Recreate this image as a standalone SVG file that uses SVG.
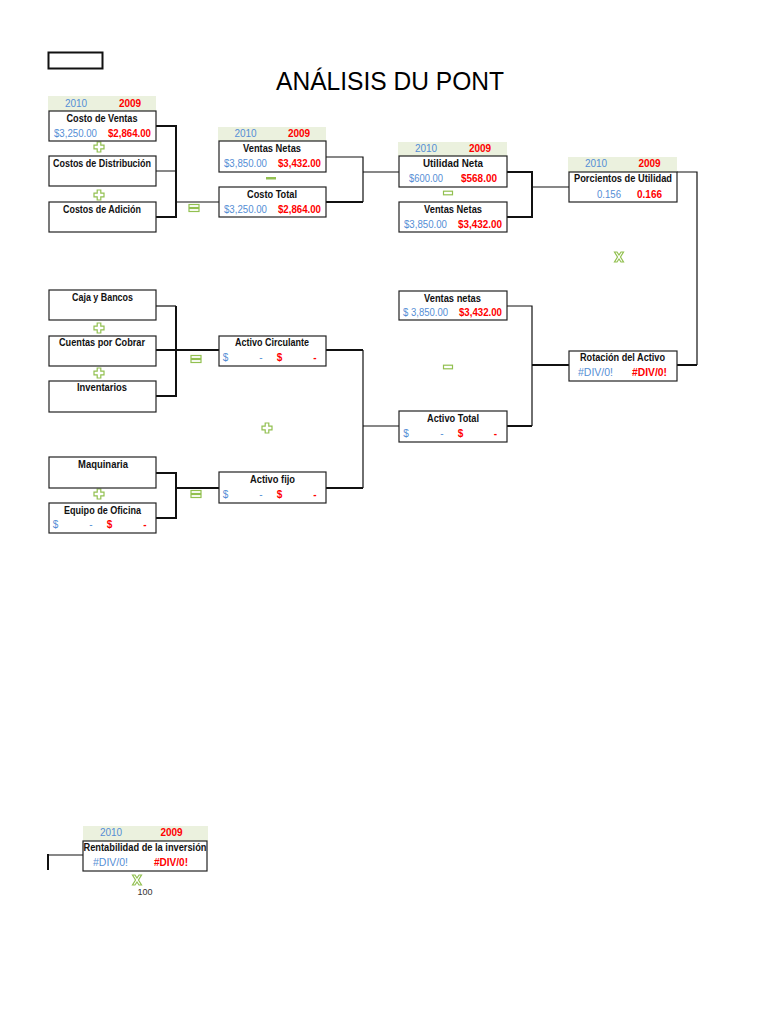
<svg xmlns="http://www.w3.org/2000/svg" width="768" height="1024" viewBox="0 0 768 1024">
<style>
text{font-family:"Liberation Sans",Arial,sans-serif;font-size:10px}
.box{fill:#fff;stroke:#222;stroke-width:1.2}
.hdr{fill:#ebf1de}
.t{font-weight:bold;fill:#111;text-anchor:middle}
.b{fill:#558ed5;text-anchor:middle}
.r{fill:#ff0000;font-weight:bold;text-anchor:middle}
.thin{stroke:#111;stroke-width:1.2;fill:none}
.thick{stroke:#111;stroke-width:2;fill:none}
.sym{fill:#fff;stroke:#92c050;stroke-width:1.2}
</style>
<defs>
<path id="plus" class="sym" d="M-1.8,-5 H1.8 V-1.8 H5 V1.8 H1.8 V5 H-1.8 V1.8 H-5 V-1.8 H-1.8 Z"/>
<g id="eq"><rect class="sym" x="-5" y="-3.5" width="10" height="3"/><rect class="sym" x="-5" y="0.5" width="10" height="3"/></g>
<rect id="sm" class="sym" x="-4.5" y="-1.8" width="9" height="3.6"/>
<path id="times" class="sym" d="M-4.5,-5 L-2,-5 L0,-2 L2,-5 L4.5,-5 L1.5,0 L4.5,5 L2,5 L0,2 L-2,5 L-4.5,5 L-1.5,0 Z"/>
</defs>
<rect x="0" y="0" width="768" height="1024" fill="#fff"/>
<rect x="48.5" y="52.5" width="54" height="16" fill="none" stroke="#111" stroke-width="2"/>
<text x="390" y="90" text-anchor="middle" style="font-size:25px" textLength="228" lengthAdjust="spacingAndGlyphs">ANÁLISIS DU PONT</text>

<g id="connectors">
<path class="thick" d="M156,126 H176 V217 H156"/>
<path class="thin" d="M156,171 H176 M176,202 H219"/>
<path class="thin" d="M326,157 H363 V202 M363,172 H399"/>
<path class="thick" d="M326,202 H363"/>
<path class="thick" d="M507,172 H532 V217 H507"/>
<path class="thin" d="M532,187 H569"/>
<path class="thin" d="M677,172 H697 V365"/>
<path class="thick" d="M677,365 H697"/>
<path class="thin" d="M156,306 H176"/>
<path class="thick" d="M176,306 V396 H156 M156,350 H219"/>
<path class="thick" d="M326,350 H363 M326,488 H363"/>
<path class="thin" d="M363,350 V488 M363,426 H399"/>
<path class="thin" d="M507,306 H532 V426"/>
<path class="thick" d="M507,426 H532 M532,365 H569"/>
<path class="thick" d="M156,473 H176 V518 H156 M176,488 H219"/>
<path class="thin" d="M48,855 H83"/>
<path class="thick" d="M48,854 V870"/>
</g>

<g id="symbols">
<use href="#plus" x="99" y="147"/>
<use href="#plus" x="99" y="195"/>
<use href="#plus" x="99" y="328"/>
<use href="#plus" x="99" y="373"/>
<use href="#plus" x="99" y="494"/>
<use href="#plus" x="267" y="428"/>
<use href="#eq" x="194" y="208"/>
<use href="#eq" x="196" y="359"/>
<use href="#eq" x="196" y="494"/>
<rect x="266" y="177" width="10" height="2.5" fill="#92c050"/>
<use href="#sm" x="448" y="193"/>
<use href="#sm" x="448" y="367"/>
<use href="#times" x="619" y="257"/>
<use href="#times" x="137" y="880"/>
</g>

<g id="costo-ventas">
<rect class="hdr" x="48" y="96" width="108" height="15"/>
<text class="b" x="76" y="107">2010</text><text class="r" x="130" y="107">2009</text>
<rect class="box" x="49" y="111" width="107" height="30"/>
<text class="t" x="102" y="122" textLength="71" lengthAdjust="spacingAndGlyphs">Costo de Ventas</text>
<text class="b" x="75.5" y="137" textLength="43" lengthAdjust="spacingAndGlyphs">$3,250.00</text>
<text class="r" x="129.5" y="137" textLength="43" lengthAdjust="spacingAndGlyphs">$2,864.00</text>
</g>
<g id="costos-distribucion">
<rect class="box" x="49" y="156" width="107" height="30"/>
<text class="t" x="102" y="167" textLength="98" lengthAdjust="spacingAndGlyphs">Costos de Distribución</text>
</g>
<g id="costos-adicion">
<rect class="box" x="49" y="202" width="107" height="30"/>
<text class="t" x="102" y="213" textLength="78" lengthAdjust="spacingAndGlyphs">Costos de Adición</text>
</g>

<g id="ventas-netas-1">
<rect class="hdr" x="218" y="127" width="108" height="14"/>
<text class="b" x="245.5" y="137">2010</text><text class="r" x="299" y="137">2009</text>
<rect class="box" x="219" y="141" width="107" height="31"/>
<text class="t" x="272" y="152" textLength="58" lengthAdjust="spacingAndGlyphs">Ventas Netas</text>
<text class="b" x="245.5" y="167" textLength="43" lengthAdjust="spacingAndGlyphs">$3,850.00</text>
<text class="r" x="299.5" y="167" textLength="43" lengthAdjust="spacingAndGlyphs">$3,432.00</text>
</g>
<g id="costo-total">
<rect class="box" x="219" y="187" width="107" height="30"/>
<text class="t" x="272" y="198" textLength="50" lengthAdjust="spacingAndGlyphs">Costo Total</text>
<text class="b" x="245.5" y="213" textLength="43" lengthAdjust="spacingAndGlyphs">$3,250.00</text>
<text class="r" x="299.5" y="213" textLength="43" lengthAdjust="spacingAndGlyphs">$2,864.00</text>
</g>

<g id="utilidad-neta">
<rect class="hdr" x="398" y="142" width="109" height="14"/>
<text class="b" x="426" y="152">2010</text><text class="r" x="480" y="152">2009</text>
<rect class="box" x="399" y="156" width="108" height="31"/>
<text class="t" x="453" y="167" textLength="60" lengthAdjust="spacingAndGlyphs">Utilidad Neta</text>
<text class="b" x="426" y="182" textLength="34" lengthAdjust="spacingAndGlyphs">$600.00</text>
<text class="r" x="479" y="182" textLength="36" lengthAdjust="spacingAndGlyphs">$568.00</text>
</g>
<g id="ventas-netas-2">
<rect class="box" x="399" y="202" width="108" height="30"/>
<text class="t" x="453" y="213" textLength="58" lengthAdjust="spacingAndGlyphs">Ventas Netas</text>
<text class="b" x="425.5" y="228" textLength="43" lengthAdjust="spacingAndGlyphs">$3,850.00</text>
<text class="r" x="480" y="228" textLength="44" lengthAdjust="spacingAndGlyphs">$3,432.00</text>
</g>

<g id="porcientos-utilidad">
<rect class="hdr" x="568" y="157" width="109" height="15"/>
<text class="b" x="596" y="167">2010</text><text class="r" x="649.5" y="167">2009</text>
<rect class="box" x="569" y="172" width="108" height="30"/>
<text class="t" x="623" y="182" textLength="98" lengthAdjust="spacingAndGlyphs">Porcientos de Utilidad</text>
<text class="b" x="609" y="198" textLength="24" lengthAdjust="spacingAndGlyphs">0.156</text>
<text class="r" x="649.5" y="198" textLength="25" lengthAdjust="spacingAndGlyphs">0.166</text>
</g>

<g id="caja-bancos">
<rect class="box" x="49" y="290" width="107" height="30"/>
<text class="t" x="102.5" y="301" textLength="61" lengthAdjust="spacingAndGlyphs">Caja y Bancos</text>
</g>
<g id="cuentas-cobrar">
<rect class="box" x="49" y="336" width="107" height="30"/>
<text class="t" x="102" y="346" textLength="86" lengthAdjust="spacingAndGlyphs">Cuentas por Cobrar</text>
</g>
<g id="inventarios">
<rect class="box" x="49" y="381" width="107" height="31"/>
<text class="t" x="102" y="391" textLength="50" lengthAdjust="spacingAndGlyphs">Inventarios</text>
</g>

<g id="activo-circulante">
<rect class="box" x="219" y="336" width="107" height="30"/>
<text class="t" x="272" y="346" textLength="74" lengthAdjust="spacingAndGlyphs">Activo Circulante</text>
<text class="b" x="225.5" y="361">$</text><text class="b" x="261" y="361">-</text>
<text class="r" x="279.5" y="361">$</text><text class="r" x="315" y="361">-</text>
</g>

<g id="ventas-netas-3">
<rect class="box" x="399" y="291" width="108" height="29"/>
<text class="t" x="452.5" y="302" textLength="57" lengthAdjust="spacingAndGlyphs">Ventas netas</text>
<text class="b" x="425.5" y="316" textLength="45" lengthAdjust="spacingAndGlyphs">$ 3,850.00</text>
<text class="r" x="480.5" y="316" textLength="43" lengthAdjust="spacingAndGlyphs">$3,432.00</text>
</g>
<g id="activo-total">
<rect class="box" x="399" y="411" width="108" height="31"/>
<text class="t" x="453" y="422" textLength="52" lengthAdjust="spacingAndGlyphs">Activo Total</text>
<text class="b" x="406" y="437">$</text><text class="b" x="442" y="437">-</text>
<text class="r" x="460.5" y="437">$</text><text class="r" x="495.5" y="437">-</text>
</g>

<g id="rotacion-activo">
<rect class="box" x="569" y="351" width="108" height="30"/>
<text class="t" x="622.5" y="361" textLength="85" lengthAdjust="spacingAndGlyphs">Rotación del Activo</text>
<text class="b" x="595.5" y="376" textLength="35" lengthAdjust="spacingAndGlyphs">#DIV/0!</text>
<text class="r" x="649.5" y="376" textLength="35" lengthAdjust="spacingAndGlyphs">#DIV/0!</text>
</g>

<g id="maquinaria">
<rect class="box" x="49" y="457" width="107" height="31"/>
<text class="t" x="103" y="468" textLength="50" lengthAdjust="spacingAndGlyphs">Maquinaria</text>
</g>
<g id="equipo-oficina">
<rect class="box" x="49" y="503" width="107" height="30"/>
<text class="t" x="102.5" y="514" textLength="77" lengthAdjust="spacingAndGlyphs">Equipo de Oficina</text>
<text class="b" x="55.5" y="528">$</text><text class="b" x="91" y="528">-</text>
<text class="r" x="109.5" y="528">$</text><text class="r" x="145" y="528">-</text>
</g>
<g id="activo-fijo">
<rect class="box" x="219" y="472" width="107" height="31"/>
<text class="t" x="272.5" y="483" textLength="45" lengthAdjust="spacingAndGlyphs">Activo fijo</text>
<text class="b" x="225.5" y="498">$</text><text class="b" x="261" y="498">-</text>
<text class="r" x="279.5" y="498">$</text><text class="r" x="315" y="498">-</text>
</g>

<g id="rentabilidad-inversion">
<rect class="hdr" x="83" y="826" width="125" height="15"/>
<text class="b" x="111" y="836">2010</text><text class="r" x="171.5" y="836">2009</text>
<rect class="box" x="83" y="841" width="124" height="30"/>
<text class="t" x="145" y="851" textLength="123" lengthAdjust="spacingAndGlyphs">Rentabilidad de la inversión</text>
<text class="b" x="110.5" y="866" textLength="35" lengthAdjust="spacingAndGlyphs">#DIV/0!</text>
<text class="r" x="171" y="866" textLength="34" lengthAdjust="spacingAndGlyphs">#DIV/0!</text>
<text x="145" y="895" text-anchor="middle" style="font-size:9px;fill:#333">100</text>
</g>
</svg>
